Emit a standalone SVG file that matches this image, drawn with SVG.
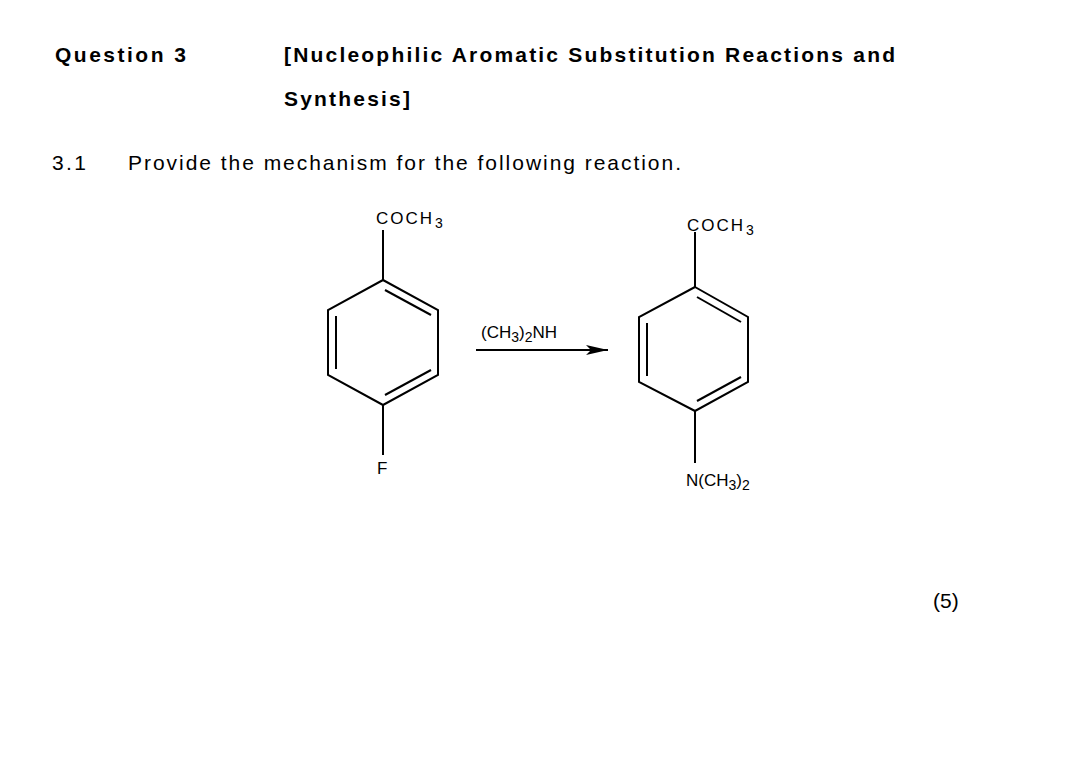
<svg xmlns="http://www.w3.org/2000/svg" width="1080" height="774" viewBox="0 0 1080 774">
<style>
text{font-family:"Liberation Sans",Arial,sans-serif;fill:#000}
.h{font-size:21px;font-weight:bold}
.b{font-size:21px}
.c{font-size:17px}
.s{font-size:14px}
line,polyline,polygon.r{stroke:#000;stroke-width:2;fill:none}
</style>
<defs><marker id="a" markerWidth="22" markerHeight="10" refX="22" refY="5" orient="auto" markerUnits="userSpaceOnUse"><path d="M0,0L22,5L0,10L5,5Z" fill="#000"/></marker></defs>
<rect width="1080" height="774" fill="#fff"/>
<text class="h" x="55" y="62" textLength="131" lengthAdjust="spacing">Question 3</text>
<text class="h" x="284" y="62" textLength="611" lengthAdjust="spacing">[Nucleophilic Aromatic Substitution Reactions and</text>
<text class="h" x="284" y="106" textLength="126" lengthAdjust="spacing">Synthesis]</text>
<text class="b" x="52" y="170" textLength="34" lengthAdjust="spacing">3.1</text>
<text class="b" x="128" y="170" textLength="553" lengthAdjust="spacing">Provide the mechanism for the following reaction.</text>
<g id="reactant">
<polygon class="r" points="383,280 438,310 438,375 383,405 328,375 328,310"/>
<line x1="385" y1="290" x2="431" y2="315"/>
<line x1="336" y1="316" x2="336" y2="369"/>
<line x1="385" y1="395" x2="431" y2="370"/>
<line x1="383" y1="230" x2="383" y2="280"/>
<line x1="383" y1="405" x2="383" y2="455"/>
<text class="c" x="376" y="224" textLength="56" lengthAdjust="spacing">COCH</text><text class="s" x="435" y="228">3</text>
<text class="c" x="377" y="474">F</text>
</g>
<g id="product">
<polygon class="r" points="695,287 748,317 748,382 695,411 639,382 639,317"/>
<line x1="697" y1="297" x2="741" y2="322"/>
<line x1="647" y1="323" x2="647" y2="376"/>
<line x1="697" y1="401" x2="741" y2="377"/>
<line x1="695" y1="232" x2="695" y2="287"/>
<line x1="695" y1="411" x2="695" y2="463"/>
<text class="c" x="687" y="231" textLength="56" lengthAdjust="spacing">COCH</text><text class="s" x="746" y="235">3</text>
<text class="c" x="686" y="486">N(CH<tspan class="s" dy="4">3</tspan><tspan dy="-4">)</tspan><tspan class="s" dy="4">2</tspan></text>
</g>
<g id="connectors">
<line x1="476" y1="350" x2="608" y2="350" marker-end="url(#a)"/>
<text class="c" x="481" y="338">(CH<tspan class="s" dy="4">3</tspan><tspan dy="-4">)</tspan><tspan class="s" dy="4">2</tspan><tspan dy="-4">NH</tspan></text>
</g>
<text class="b" x="933" y="608">(5)</text>
</svg>
